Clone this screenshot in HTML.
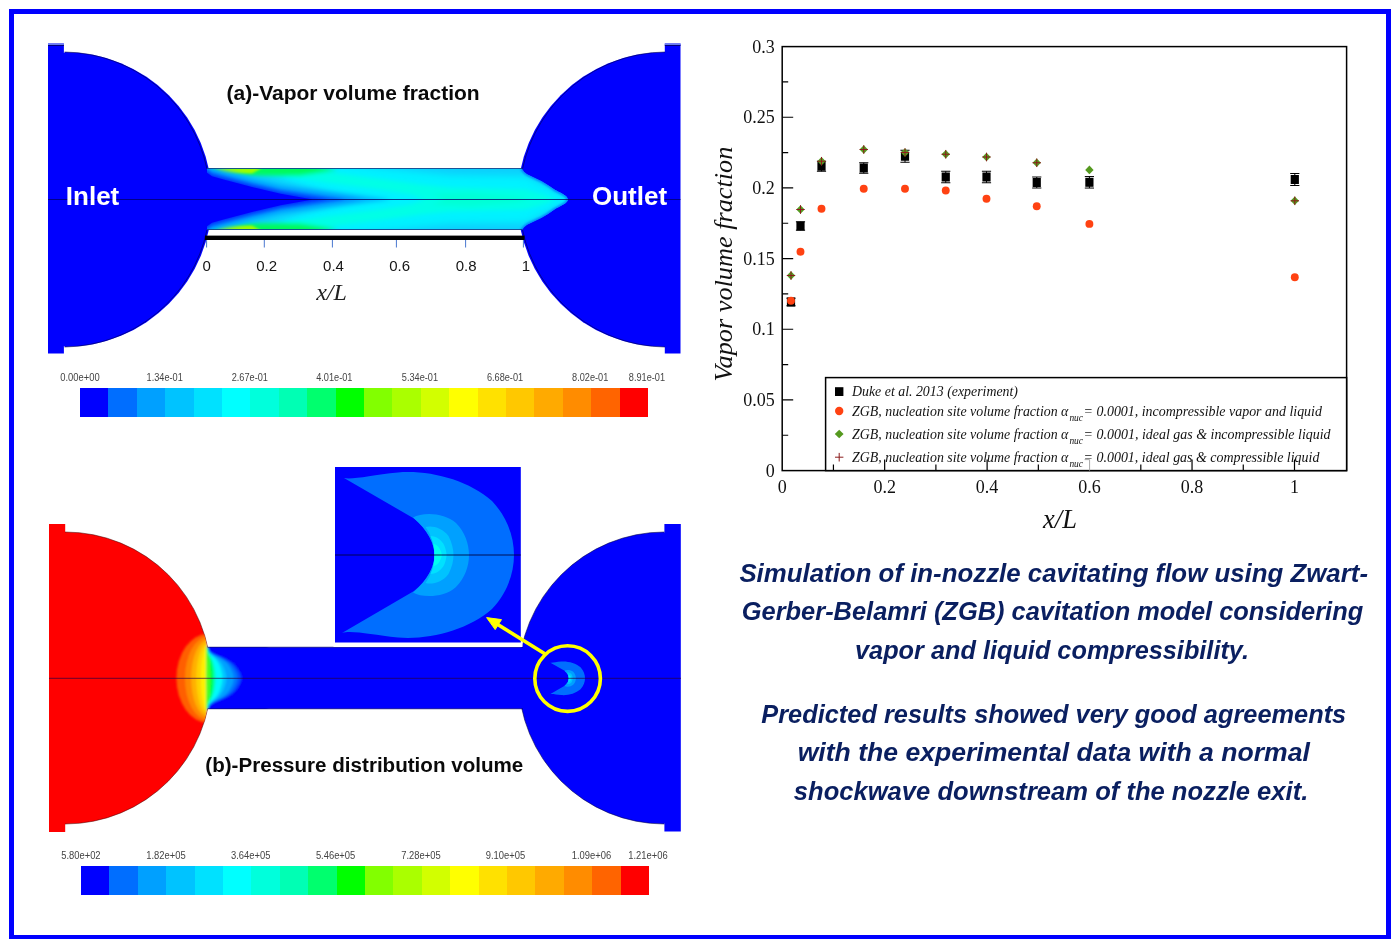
<!DOCTYPE html>
<html lang="en">
<head>
<meta charset="utf-8">
<title>Graphical abstract - ZGB cavitation model</title>
<style>
html,body{margin:0;padding:0;background:#fff;}
body{width:1399px;height:949px;overflow:hidden;}
svg{display:block;}
.sans{font-family:"Liberation Sans",sans-serif;}
.serif{font-family:"Liberation Serif",serif;}
.cb{font-family:"Liberation Sans",sans-serif;font-size:10px;fill:#444;}
.ax{font-family:"Liberation Sans",sans-serif;font-size:15px;fill:#141414;text-anchor:middle;}
.tk{font-family:"Liberation Serif",serif;font-size:18px;fill:#111;}
.lg{font-family:"Liberation Serif",serif;font-style:italic;font-size:14px;fill:#111;}
.cap{font-family:"Liberation Sans",sans-serif;font-weight:bold;font-style:italic;font-size:25.5px;fill:#0a1f60;}
.ttl{font-family:"Liberation Sans",sans-serif;font-weight:bold;font-size:20px;fill:#0a0a0a;}
.io{font-family:"Liberation Sans",sans-serif;font-weight:bold;font-size:26px;fill:#fff;}
</style>
</head>
<body>
<svg width="1399" height="949" viewBox="0 0 1399 949">

<defs>
<filter id="b1" x="-20%" y="-20%" width="140%" height="140%"><feGaussianBlur stdDeviation="1"/></filter>
<filter id="b2" x="-20%" y="-50%" width="140%" height="200%"><feGaussianBlur stdDeviation="2.2"/></filter>
<filter id="b3" x="-20%" y="-50%" width="140%" height="200%"><feGaussianBlur stdDeviation="3.5"/></filter>
<filter id="b05" x="-10%" y="-10%" width="120%" height="120%"><feGaussianBlur stdDeviation="0.5"/></filter>
<clipPath id="chanA"><path d="M207,168.5 H521.6 Q524,172.5 527,174.3 L541.6,181.2 Q549,185.5 554.4,189.6 C559,192.5 567.8,195.5 567.8,199.5 C567.8,203.5 559,206.5 554.4,209.4 Q549,213.5 541.6,217.8 L527,224.7 Q524,226.5 521.6,230.5 V229.5 H207 Z"/></clipPath>
<clipPath id="domB"><path d="M65,532 A146,146 0 0 1 207.6,647.2 H523 V708.8 H207.6 A146,146 0 0 1 65,824 Z"/></clipPath>
<clipPath id="insetClip"><rect x="335" y="467" width="185.8" height="175.5"/></clipPath>
</defs>

<rect x="0" y="0" width="1399" height="949" fill="#fff"/>
<g fill="#0000ff"><rect x="9" y="9" width="1382" height="5"/><rect x="9" y="935" width="1382" height="4"/><rect x="9" y="9" width="5" height="930"/><rect x="1386" y="9" width="5" height="930"/></g>
<g id="figA">
<rect x="48" y="43.5" width="15.9" height="310" fill="#0000ff"/>
<rect x="664.8" y="43.5" width="15.7" height="310" fill="#0000ff"/>
<path d="M64.5,52 A147.5,147.5 0 0 1 64.5,347 Z" fill="#0000ff"/>
<path d="M64.5,52 A147.5,147.5 0 0 1 207,169 M207,230 A147.5,147.5 0 0 1 64.5,347" fill="none" stroke="#00003c" stroke-opacity=".55" stroke-width="1"/>
<path d="M665,52 A147.5,147.5 0 0 0 665,347 Z" fill="#0000ff"/>
<path d="M665,52 A147.5,147.5 0 0 0 522.5,169 M522.5,230 A147.5,147.5 0 0 0 665,347" fill="none" stroke="#00003c" stroke-opacity=".55" stroke-width="1"/>
<rect x="48" y="43.5" width="15.9" height="1.5" fill="#6a7cf0"/><rect x="48" y="45" width="15.9" height="0.9" fill="#000070"/>
<rect x="664.8" y="43.5" width="15.7" height="1.5" fill="#6a7cf0"/><rect x="664.8" y="45" width="15.7" height="0.9" fill="#000070"/>
<rect x="62" y="53" width="5" height="293" fill="#0000ff"/>
<rect x="662" y="53" width="5" height="293" fill="#0000ff"/>
<g clip-path="url(#chanA)">
<rect x="200" y="160" width="380" height="80" fill="#0ccffc"/>
<g filter="url(#b3)">
<path d="M240,164 L335,164 L400,170 L450,175 L525,176 L552,189 L575,199.5 L552,210 L525,223 L450,224 L400,229 L335,235 L240,235 L300,214 L350,199.5 L300,185 Z" fill="#00f2ff"/>
</g>
<g filter="url(#b2)">
<path d="M285,167 L312,170 L340,174 L380,179 L420,184.5 L450,187.5 L525,189.5 L545,195 L556,199.5 L545,204 L525,209.5 L450,211.5 L420,214.5 L380,220 L340,225 L312,229 L285,232 L285,223 L330,216 L380,209.5 L410,204.5 L425,199.5 L410,194.5 L380,189.5 L330,183 L285,176 Z" fill="#00ffe6"/>
<path d="M432,194.5 L470,193 L515,196.5 L530,199.5 L515,202.5 L470,206 L432,204.5 L445,199.5 Z" fill="#00ffd6"/>
<path d="M205,165 L305,165 L338,170 L300,175.5 L250,175.5 L212,172.5 Z" fill="#00fa5a"/>
<path d="M205,234 L305,234 L338,229 L300,223.5 L250,223.5 L212,226.5 Z" fill="#00fa5a"/>
</g>
<g filter="url(#b1)">
<path d="M213,168 L262,168 L252,173.5 L222,173.5 Z" fill="#9cff00"/>
<path d="M213,231 L262,231 L252,225.5 L222,225.5 Z" fill="#9cff00"/>
</g>
<g filter="url(#b2)">
<path d="M198,159.5 L207,163.5 L212,167.0 L223.6,170.2 L252,177.8 L280.7,184.5 L392,199.5 L280.7,214.5 L252,221.2 L223.6,228.8 L212,232.0 L207,235.5 L198,239.5 Z" fill="#00b9ff"/>
<path d="M198,162.5 L207,166.5 L212,170.0 L223.6,173.2 L252,180.8 L280.7,187.5 L365,199.5 L280.7,211.5 L252,218.2 L223.6,225.8 L212,229.0 L207,232.5 L198,236.5 Z" fill="#008cff"/>
</g>
<g filter="url(#b1)">
<path d="M198,165.0 L207,169.0 L212,172.5 L223.6,175.7 L252,183.3 L280.7,190.0 L345,199.5 L280.7,209.0 L252,215.7 L223.6,223.3 L212,226.5 L207,230.0 L198,234.0 Z" fill="#0064ff"/>
<path d="M198,167.3 L207,171.3 L212,174.8 L223.6,178.0 L252,185.6 L280.7,192.3 L328,199.5 L280.7,206.7 L252,213.4 L223.6,221.0 L212,224.2 L207,227.7 L198,231.7 Z" fill="#0032ff"/>
</g>
<g filter="url(#b05)">
<path d="M198,168.7 L207,172.7 L212,176.2 L223.6,179.4 L252,187.0 L280.7,193.7 L313,199.5 L280.7,205.3 L252,212.0 L223.6,219.6 L212,222.8 L207,226.3 L198,230.3 Z" fill="#0000ff"/>
</g>
<path d="M521.6,168.5 Q524,172.5 527,174.3 L541.6,181.2 Q549,185.5 554.4,189.6 C559,192.5 567.8,195.5 567.8,199.5 C567.8,203.5 559,206.5 554.4,209.4 Q549,213.5 541.6,217.8 L527,224.7 Q524,226.5 521.6,230.5" fill="none" stroke="#0050ff" stroke-width="2.5" stroke-opacity=".7" filter="url(#b1)"/>
</g>
<path d="M207,168.5 H522.5 M207,229.5 H522.5" stroke="#083a86" stroke-width="1" stroke-opacity=".85" fill="none"/>
<path d="M48,199.5 H680.5" stroke="#000060" stroke-width="1" stroke-opacity=".75" fill="none"/>
<rect x="205" y="235.6" width="319.5" height="4.4" fill="#000"/>
<rect x="206.1" y="240" width="1" height="7.5" fill="#4a78d0"/>
<rect x="263.8" y="240" width="1" height="7.5" fill="#4a78d0"/>
<rect x="331.9" y="240" width="1" height="7.5" fill="#4a78d0"/>
<rect x="395.9" y="240" width="1" height="7.5" fill="#4a78d0"/>
<rect x="465.1" y="240" width="1" height="7.5" fill="#4a78d0"/>
<rect x="522.9" y="240" width="1" height="7.5" fill="#4a78d0"/>
<text class="ax" x="206.6" y="270.8">0</text>
<text class="ax" x="266.6" y="270.8">0.2</text>
<text class="ax" x="333.5" y="270.8">0.4</text>
<text class="ax" x="399.6" y="270.8">0.6</text>
<text class="ax" x="466.2" y="270.8">0.8</text>
<text class="ax" x="526" y="270.8">1</text>
<text class="serif" x="331.5" y="299.6" font-size="24" font-style="italic" text-anchor="middle" fill="#222">x/L</text>
<text class="ttl" x="226.6" y="100.2" textLength="253" lengthAdjust="spacingAndGlyphs">(a)-Vapor volume fraction</text>
<text class="io" x="65.8" y="205">Inlet</text>
<text class="io" x="592" y="205">Outlet</text>
</g>
<g shape-rendering="crispEdges">
<rect x="79.90" y="387.5" width="28.71" height="29.5" fill="#0000ff"/>
<rect x="108.31" y="387.5" width="28.71" height="29.5" fill="#006eff"/>
<rect x="136.71" y="387.5" width="28.71" height="29.5" fill="#00a0ff"/>
<rect x="165.12" y="387.5" width="28.71" height="29.5" fill="#00c3ff"/>
<rect x="193.52" y="387.5" width="28.71" height="29.5" fill="#00e1ff"/>
<rect x="221.93" y="387.5" width="28.71" height="29.5" fill="#00ffff"/>
<rect x="250.33" y="387.5" width="28.71" height="29.5" fill="#00ffdc"/>
<rect x="278.74" y="387.5" width="28.71" height="29.5" fill="#00ffb4"/>
<rect x="307.14" y="387.5" width="28.71" height="29.5" fill="#00ff6e"/>
<rect x="335.55" y="387.5" width="28.71" height="29.5" fill="#00ff00"/>
<rect x="363.95" y="387.5" width="28.71" height="29.5" fill="#82ff00"/>
<rect x="392.36" y="387.5" width="28.71" height="29.5" fill="#aaff00"/>
<rect x="420.76" y="387.5" width="28.71" height="29.5" fill="#d2ff00"/>
<rect x="449.16" y="387.5" width="28.71" height="29.5" fill="#ffff00"/>
<rect x="477.57" y="387.5" width="28.71" height="29.5" fill="#ffe100"/>
<rect x="505.98" y="387.5" width="28.71" height="29.5" fill="#ffc800"/>
<rect x="534.38" y="387.5" width="28.71" height="29.5" fill="#ffaa00"/>
<rect x="562.78" y="387.5" width="28.71" height="29.5" fill="#ff8c00"/>
<rect x="591.19" y="387.5" width="28.71" height="29.5" fill="#ff6400"/>
<rect x="619.60" y="387.5" width="28.41" height="29.5" fill="#ff0000"/>
</g>
<text class="cb" x="60.3" y="380.8" textLength="39.4" lengthAdjust="spacingAndGlyphs">0.00e+00</text>
<text class="cb" x="146.6" y="380.8" textLength="36.2" lengthAdjust="spacingAndGlyphs">1.34e-01</text>
<text class="cb" x="231.7" y="380.8" textLength="36.2" lengthAdjust="spacingAndGlyphs">2.67e-01</text>
<text class="cb" x="316.2" y="380.8" textLength="36.2" lengthAdjust="spacingAndGlyphs">4.01e-01</text>
<text class="cb" x="401.8" y="380.8" textLength="36.2" lengthAdjust="spacingAndGlyphs">5.34e-01</text>
<text class="cb" x="486.9" y="380.8" textLength="36.2" lengthAdjust="spacingAndGlyphs">6.68e-01</text>
<text class="cb" x="572.1" y="380.8" textLength="36.2" lengthAdjust="spacingAndGlyphs">8.02e-01</text>
<text class="cb" x="628.8" y="380.8" textLength="36.2" lengthAdjust="spacingAndGlyphs">8.91e-01</text>
<g shape-rendering="crispEdges">
<rect x="80.90" y="865.5" width="28.70" height="29.200000000000045" fill="#0000ff"/>
<rect x="109.30" y="865.5" width="28.70" height="29.200000000000045" fill="#006eff"/>
<rect x="137.70" y="865.5" width="28.70" height="29.200000000000045" fill="#00a0ff"/>
<rect x="166.10" y="865.5" width="28.70" height="29.200000000000045" fill="#00c3ff"/>
<rect x="194.50" y="865.5" width="28.70" height="29.200000000000045" fill="#00e1ff"/>
<rect x="222.90" y="865.5" width="28.70" height="29.200000000000045" fill="#00ffff"/>
<rect x="251.30" y="865.5" width="28.70" height="29.200000000000045" fill="#00ffdc"/>
<rect x="279.70" y="865.5" width="28.70" height="29.200000000000045" fill="#00ffb4"/>
<rect x="308.10" y="865.5" width="28.70" height="29.200000000000045" fill="#00ff6e"/>
<rect x="336.50" y="865.5" width="28.70" height="29.200000000000045" fill="#00ff00"/>
<rect x="364.90" y="865.5" width="28.70" height="29.200000000000045" fill="#82ff00"/>
<rect x="393.30" y="865.5" width="28.70" height="29.200000000000045" fill="#aaff00"/>
<rect x="421.70" y="865.5" width="28.70" height="29.200000000000045" fill="#d2ff00"/>
<rect x="450.10" y="865.5" width="28.70" height="29.200000000000045" fill="#ffff00"/>
<rect x="478.50" y="865.5" width="28.70" height="29.200000000000045" fill="#ffe100"/>
<rect x="506.90" y="865.5" width="28.70" height="29.200000000000045" fill="#ffc800"/>
<rect x="535.30" y="865.5" width="28.70" height="29.200000000000045" fill="#ffaa00"/>
<rect x="563.70" y="865.5" width="28.70" height="29.200000000000045" fill="#ff8c00"/>
<rect x="592.10" y="865.5" width="28.70" height="29.200000000000045" fill="#ff6400"/>
<rect x="620.50" y="865.5" width="28.40" height="29.200000000000045" fill="#ff0000"/>
</g>
<text class="cb" x="61.2" y="859.3" textLength="39.4" lengthAdjust="spacingAndGlyphs">5.80e+02</text>
<text class="cb" x="146.3" y="859.3" textLength="39.4" lengthAdjust="spacingAndGlyphs">1.82e+05</text>
<text class="cb" x="231.0" y="859.3" textLength="39.4" lengthAdjust="spacingAndGlyphs">3.64e+05</text>
<text class="cb" x="315.9" y="859.3" textLength="39.4" lengthAdjust="spacingAndGlyphs">5.46e+05</text>
<text class="cb" x="401.3" y="859.3" textLength="39.4" lengthAdjust="spacingAndGlyphs">7.28e+05</text>
<text class="cb" x="485.8" y="859.3" textLength="39.4" lengthAdjust="spacingAndGlyphs">9.10e+05</text>
<text class="cb" x="571.8" y="859.3" textLength="39.4" lengthAdjust="spacingAndGlyphs">1.09e+06</text>
<text class="cb" x="628.3" y="859.3" textLength="39.4" lengthAdjust="spacingAndGlyphs">1.21e+06</text>
<g id="figB">
<rect x="49" y="524" width="16.2" height="308" fill="#ff0000"/>
<path d="M65,532 A146,146 0 0 1 65,824 Z" fill="#ff0000"/>
<path d="M65,532 A146,146 0 0 1 65,824" fill="none" stroke="#3c0000" stroke-opacity=".5" stroke-width="1"/>
<rect x="63" y="533" width="4" height="290" fill="#ff0000"/>
<rect x="664.4" y="524" width="16.4" height="307.5" fill="#0000ff"/>
<path d="M664.5,532 A146,146 0 0 0 664.5,824 Z" fill="#0000ff"/>
<path d="M664.5,532 A146,146 0 0 0 664.5,824" fill="none" stroke="#00003c" stroke-opacity=".55" stroke-width="1"/>
<rect x="662" y="533" width="5" height="290" fill="#0000ff"/>
<rect x="207.6" y="647.2" width="316" height="61.6" fill="#0000ff"/>
<g clip-path="url(#domB)"><g filter="url(#b1)">
<ellipse cx="208.0" cy="678.3" rx="31.6" ry="44.5" fill="#ff5f00"/>
<ellipse cx="208.0" cy="678.3" rx="23" ry="41.5" fill="#ff8700"/>
<ellipse cx="208.0" cy="678.3" rx="16.8" ry="38.5" fill="#ffb000"/>
<ellipse cx="208.0" cy="678.3" rx="11.8" ry="35.5" fill="#ffd200"/>
<ellipse cx="208.0" cy="678.3" rx="7.2" ry="33" fill="#fff000"/>
<ellipse cx="208.0" cy="678.3" rx="2.2" ry="31.5" fill="#c8ff00"/>
<rect x="207.6" y="640" width="60" height="76" fill="#0000ff"/>
<path d="M206.6,647.3 L207.6,648.1 L210.1,651.9 L213.0,653.7 L215.8,655.1 L219.7,656.6 L223.9,658.3 L228.1,660.4 L232.1,663.1 L235.2,665.9 L237.8,669.5 L239.9,673.1 L240.9,676.1 L241.2,678.3 L241.2,678.3 L240.9,680.5 L239.9,683.5 L237.8,687.1 L235.2,690.7 L232.1,693.5 L228.1,696.2 L223.9,698.3 L219.7,700.0 L215.8,701.5 L213.0,702.9 L210.1,704.7 L207.6,708.5 L206.6,709.3 Z" fill="#0050ff"/>
<path d="M206.6,647.3 L207.6,648.1 L209.8,651.9 L212.4,653.7 L214.9,655.1 L218.4,656.6 L222.1,658.3 L225.8,660.4 L229.4,663.1 L232.1,665.9 L234.5,669.5 L236.3,673.1 L237.2,676.1 L237.5,678.3 L237.5,678.3 L237.2,680.5 L236.3,683.5 L234.5,687.1 L232.1,690.7 L229.4,693.5 L225.8,696.2 L222.1,698.3 L218.4,700.0 L214.9,701.5 L212.4,702.9 L209.8,704.7 L207.6,708.5 L206.6,709.3 Z" fill="#0078ff"/>
<path d="M206.6,647.3 L207.6,648.1 L209.5,651.9 L211.8,653.7 L213.9,655.1 L217.0,656.6 L220.3,658.3 L223.5,660.4 L226.7,663.1 L229.0,665.9 L231.1,669.5 L232.7,673.1 L233.4,676.1 L233.7,678.3 L233.7,678.3 L233.4,680.5 L232.7,683.5 L231.1,687.1 L229.0,690.7 L226.7,693.5 L223.5,696.2 L220.3,698.3 L217.0,700.0 L213.9,701.5 L211.8,702.9 L209.5,704.7 L207.6,708.5 L206.6,709.3 Z" fill="#00a0ff"/>
<path d="M206.6,647.3 L207.6,648.1 L209.0,651.9 L210.6,653.7 L212.2,655.1 L214.4,656.6 L216.7,658.3 L219.1,660.4 L221.3,663.1 L223.0,665.9 L224.5,669.5 L225.6,673.1 L226.2,676.1 L226.4,678.3 L226.4,678.3 L226.2,680.5 L225.6,683.5 L224.5,687.1 L223.0,690.7 L221.3,693.5 L219.1,696.2 L216.7,698.3 L214.4,700.0 L212.2,701.5 L210.6,702.9 L209.0,704.7 L207.6,708.5 L206.6,709.3 Z" fill="#00c8ff"/>
<path d="M206.6,647.3 L207.6,648.1 L208.7,651.9 L210.0,653.7 L211.2,655.1 L212.9,656.6 L214.8,658.3 L216.6,660.4 L218.4,663.1 L219.7,665.9 L220.9,669.5 L221.8,673.1 L222.3,676.1 L222.4,678.3 L222.4,678.3 L222.3,680.5 L221.8,683.5 L220.9,687.1 L219.7,690.7 L218.4,693.5 L216.6,696.2 L214.8,698.3 L212.9,700.0 L211.2,701.5 L210.0,702.9 L208.7,704.7 L207.6,708.5 L206.6,709.3 Z" fill="#00fafa"/>
<path d="M206.6,647.3 L207.6,648.1 L208.2,651.9 L208.9,653.7 L209.5,655.1 L210.5,656.6 L211.5,658.3 L212.5,660.4 L213.4,663.1 L214.2,665.9 L214.8,669.5 L215.3,673.1 L215.5,676.1 L215.6,678.3 L215.6,678.3 L215.5,680.5 L215.3,683.5 L214.8,687.1 L214.2,690.7 L213.4,693.5 L212.5,696.2 L211.5,698.3 L210.5,700.0 L209.5,701.5 L208.9,702.9 L208.2,704.7 L207.6,708.5 L206.6,709.3 Z" fill="#00ffaa"/>
<path d="M206.6,647.3 L207.6,648.1 L208.0,651.9 L208.5,653.7 L208.9,655.1 L209.5,656.6 L210.2,658.3 L210.9,660.4 L211.5,663.1 L212.0,665.9 L212.5,669.5 L212.8,673.1 L212.9,676.1 L213.0,678.3 L213.0,678.3 L212.9,680.5 L212.8,683.5 L212.5,687.1 L212.0,690.7 L211.5,693.5 L210.9,696.2 L210.2,698.3 L209.5,700.0 L208.9,701.5 L208.5,702.9 L208.0,704.7 L207.6,708.5 L206.6,709.3 Z" fill="#00ff3c"/>
<path d="M206.6,647.3 L207.6,648.1 L207.7,651.9 L207.9,653.7 L208.1,655.1 L208.3,656.6 L208.6,658.3 L208.8,660.4 L209.1,663.1 L209.2,665.9 L209.4,669.5 L209.5,673.1 L209.6,676.1 L209.6,678.3 L209.6,678.3 L209.6,680.5 L209.5,683.5 L209.4,687.1 L209.2,690.7 L209.1,693.5 L208.8,696.2 L208.6,698.3 L208.3,700.0 L208.1,701.5 L207.9,702.9 L207.7,704.7 L207.6,708.5 L206.6,709.3 Z" fill="#64ff00"/>
</g></g>
<path d="M207.6,647.2 H523 M207.6,708.8 H523" stroke="#000050" stroke-width="1" stroke-opacity=".6" fill="none"/>
<g transform="translate(550,678.3) scale(0.2035) translate(-342,-555)" filter="url(#b1)"><use href="#cres"/></g>
<path d="M49,678.3 H681" stroke="#2a0040" stroke-width="1" stroke-opacity=".7" fill="none"/>
<rect x="333.5" y="465.5" width="189" height="181.5" fill="#fff"/>
<rect x="335" y="467" width="185.8" height="175.5" fill="#0000ff"/>
<g id="cres">
<path d="M344,478 C352,480 372,475 398,472.5 C430,470 468,480 492,501 C508,518 514,538 514,555 C514,572 508,592 492,609 C468,630 430,640 398,637.5 C372,635 352,630 342,633 L414,591 C428,580 434.5,566 434.5,555 C434.5,544 428,530 414,518.5 Z" fill="#006eff"/>
<path d="M413,517.5 C422,512 444,512 456,523 C465,532 469,544 469,555 C469,566 465,578 456,587 C444,598 422,598 413,592.5 C428,580 434.5,566 434.5,555 C434.5,544 428,530 413,517.5 Z" fill="#00a0ff"/>
<path d="M425.5,527 C432,525 443,528 448.5,536 C452,543 453.5,549 453.5,555 C453.5,561 452,567 448.5,574 C443,582 432,585 425.5,583 C432,574 434.5,564 434.5,555 C434.5,546 432,536 425.5,527 Z" fill="#00c3ff"/>
<path d="M430.5,536 C436,536 442,540 444.5,546 C446,550 446.5,553 446.5,555 C446.5,557 446,560 444.5,564 C442,570 436,574 430.5,574 C433.5,567 434.5,561 434.5,555 C434.5,549 433.5,543 430.5,536 Z" fill="#00e1ff"/>
<path d="M433.5,544 C437,544.5 440.5,548 442,555 C440.5,562 437,565.5 433.5,566 C434.3,561 434.5,558 434.5,555 C434.5,552 434.3,549 433.5,544 Z" fill="#00fff0"/>
</g>
<path d="M335,555 H520.8" stroke="#000038" stroke-width="1.2" stroke-opacity=".85" fill="none"/>
<circle cx="567.6" cy="678.6" r="32.8" fill="none" stroke="#ffff00" stroke-width="3.6"/>
<path d="M545.2,654 L493,621.5" stroke="#ffff00" stroke-width="3.6" fill="none"/>
<path d="M486.6,617.6 L501.5,619.6 L495.2,629.6 Z" fill="#ffff00" stroke="#ffff00" stroke-width="1" stroke-linejoin="round"/>
<text class="ttl" x="205.3" y="771.6" textLength="318" lengthAdjust="spacingAndGlyphs">(b)-Pressure distribution volume</text>
</g>
<g id="chart">
<rect x="782.2" y="46.6" width="564.4" height="424.0" fill="none" stroke="#000" stroke-width="1.5"/>
<rect x="825.6" y="377.6" width="521.0" height="93.0" fill="#fff" stroke="#000" stroke-width="1.5"/>
<path d="M782.2,435.27 h6 M782.2,399.93 h11 M782.2,364.60 h6 M782.2,329.27 h11 M782.2,293.93 h6 M782.2,258.60 h11 M782.2,223.27 h6 M782.2,187.93 h11 M782.2,152.60 h6 M782.2,117.27 h11 M782.2,81.93 h6 M833.43,470.6 v-6 M884.66,470.6 v-11 M935.89,470.6 v-6 M987.12,470.6 v-11 M1038.35,470.6 v-6 M1140.81,470.6 v-6 M1192.04,470.6 v-11 M1243.27,470.6 v-6 M1294.50,470.6 v-11" stroke="#000" stroke-width="1.2" fill="none"/>
<path d="M1089.58,470.6 v-11 h-5" stroke="#a8a8a8" stroke-width="1" fill="none"/>
<text class="tk" x="774.8" y="476.7" text-anchor="end">0</text>
<text class="tk" x="774.8" y="406.0" text-anchor="end">0.05</text>
<text class="tk" x="774.8" y="335.4" text-anchor="end">0.1</text>
<text class="tk" x="774.8" y="264.7" text-anchor="end">0.15</text>
<text class="tk" x="774.8" y="194.0" text-anchor="end">0.2</text>
<text class="tk" x="774.8" y="123.4" text-anchor="end">0.25</text>
<text class="tk" x="774.8" y="52.7" text-anchor="end">0.3</text>
<text class="tk" x="782.2" y="493.2" text-anchor="middle">0</text>
<text class="tk" x="884.7" y="493.2" text-anchor="middle">0.2</text>
<text class="tk" x="987.1" y="493.2" text-anchor="middle">0.4</text>
<text class="tk" x="1089.6" y="493.2" text-anchor="middle">0.6</text>
<text class="tk" x="1192.0" y="493.2" text-anchor="middle">0.8</text>
<text class="tk" x="1294.5" y="493.2" text-anchor="middle">1</text>
<text class="serif" x="1060" y="528" font-size="26.5" font-style="italic" text-anchor="middle" fill="#111">x/L</text>
<text class="serif" transform="translate(731.5,381.6) rotate(-90)" font-size="26" font-style="italic" fill="#111" textLength="235" lengthAdjust="spacingAndGlyphs">Vapor volume fraction</text>
<path d="M791,298.2 V305.8 M786.4,298.2 h9.2 M786.4,305.8 h9.2" stroke="#000" stroke-width="1" fill="none"/>
<rect x="786.90" y="297.50" width="8.2" height="9" fill="#000"/>
<path d="M800.5,221.8 V230.2 M795.9,221.8 h9.2 M795.9,230.2 h9.2" stroke="#000" stroke-width="1" fill="none"/>
<rect x="796.40" y="221.50" width="8.2" height="9" fill="#000"/>
<path d="M821.5,161.25 V171.25 M816.9,161.25 h9.2 M816.9,171.25 h9.2" stroke="#000" stroke-width="1" fill="none"/>
<rect x="817.40" y="161.75" width="8.2" height="9" fill="#000"/>
<path d="M863.75,162.75 V173.25 M859.15,162.75 h9.2 M859.15,173.25 h9.2" stroke="#000" stroke-width="1" fill="none"/>
<rect x="859.65" y="163.50" width="8.2" height="9" fill="#000"/>
<path d="M905,150.25 V162.25 M900.4,150.25 h9.2 M900.4,162.25 h9.2" stroke="#000" stroke-width="1" fill="none"/>
<rect x="900.90" y="151.75" width="8.2" height="9" fill="#000"/>
<path d="M945.75,171.25 V182.75 M941.15,171.25 h9.2 M941.15,182.75 h9.2" stroke="#000" stroke-width="1" fill="none"/>
<rect x="941.65" y="172.50" width="8.2" height="9" fill="#000"/>
<path d="M986.5,171.25 V182.75 M981.9,171.25 h9.2 M981.9,182.75 h9.2" stroke="#000" stroke-width="1" fill="none"/>
<rect x="982.40" y="172.50" width="8.2" height="9" fill="#000"/>
<path d="M1036.75,177.0 V188.0 M1032.15,177.0 h9.2 M1032.15,188.0 h9.2" stroke="#000" stroke-width="1" fill="none"/>
<rect x="1032.65" y="178.00" width="8.2" height="9" fill="#000"/>
<path d="M1089.4,176.55 V188.05 M1084.8000000000002,176.55 h9.2 M1084.8000000000002,188.05 h9.2" stroke="#000" stroke-width="1" fill="none"/>
<rect x="1085.30" y="177.80" width="8.2" height="9" fill="#000"/>
<path d="M1294.8,173.5 V185.5 M1290.2,173.5 h9.2 M1290.2,185.5 h9.2" stroke="#000" stroke-width="1" fill="none"/>
<rect x="1290.70" y="175.00" width="8.2" height="9" fill="#000"/>
<circle cx="791" cy="300.75" r="3.95" fill="#ff4212"/>
<circle cx="800.5" cy="251.75" r="3.95" fill="#ff4212"/>
<circle cx="821.5" cy="208.75" r="3.95" fill="#ff4212"/>
<circle cx="863.75" cy="188.75" r="3.95" fill="#ff4212"/>
<circle cx="905" cy="188.75" r="3.95" fill="#ff4212"/>
<circle cx="945.75" cy="190.5" r="3.95" fill="#ff4212"/>
<circle cx="986.5" cy="198.75" r="3.95" fill="#ff4212"/>
<circle cx="1036.75" cy="206.25" r="3.95" fill="#ff4212"/>
<circle cx="1089.4" cy="223.9" r="3.95" fill="#ff4212"/>
<circle cx="1294.8" cy="277.3" r="3.95" fill="#ff4212"/>
<path d="M786.8,275.5 L791,271.2 L795.2,275.5 L791,279.8 Z" fill="#55991f"/>
<path d="M786.8,275.5 h8.4 M791,271.2 v8.6" stroke="#8c1c1c" stroke-width="1" fill="none"/>
<path d="M796.3,209.5 L800.5,205.2 L804.7,209.5 L800.5,213.8 Z" fill="#55991f"/>
<path d="M796.3,209.5 h8.4 M800.5,205.2 v8.6" stroke="#8c1c1c" stroke-width="1" fill="none"/>
<path d="M817.3,161.25 L821.5,156.95 L825.7,161.25 L821.5,165.55 Z" fill="#55991f"/>
<path d="M817.3,161.25 h8.4 M821.5,156.95 v8.6" stroke="#8c1c1c" stroke-width="1" fill="none"/>
<path d="M859.55,149.5 L863.75,145.2 L867.95,149.5 L863.75,153.8 Z" fill="#55991f"/>
<path d="M859.55,149.5 h8.4 M863.75,145.2 v8.6" stroke="#8c1c1c" stroke-width="1" fill="none"/>
<path d="M900.8,152.5 L905,148.2 L909.2,152.5 L905,156.8 Z" fill="#55991f"/>
<path d="M900.8,152.5 h8.4 M905,148.2 v8.6" stroke="#8c1c1c" stroke-width="1" fill="none"/>
<path d="M941.55,154.25 L945.75,149.95 L949.95,154.25 L945.75,158.55 Z" fill="#55991f"/>
<path d="M941.55,154.25 h8.4 M945.75,149.95 v8.6" stroke="#8c1c1c" stroke-width="1" fill="none"/>
<path d="M982.3,157 L986.5,152.7 L990.7,157 L986.5,161.3 Z" fill="#55991f"/>
<path d="M982.3,157 h8.4 M986.5,152.7 v8.6" stroke="#8c1c1c" stroke-width="1" fill="none"/>
<path d="M1032.55,162.75 L1036.75,158.45 L1040.95,162.75 L1036.75,167.05 Z" fill="#55991f"/>
<path d="M1032.55,162.75 h8.4 M1036.75,158.45 v8.6" stroke="#8c1c1c" stroke-width="1" fill="none"/>
<path d="M1085.2,169.9 L1089.4,165.6 L1093.6000000000001,169.9 L1089.4,174.20000000000002 Z" fill="#55991f"/>
<path d="M1290.6,200.8 L1294.8,196.5 L1299.0,200.8 L1294.8,205.10000000000002 Z" fill="#55991f"/>
<path d="M1290.6,200.8 h8.4 M1294.8,196.5 v8.6" stroke="#8c1c1c" stroke-width="1" fill="none"/>
<rect x="835.0" y="387.20000000000005" width="8.4" height="8.8" fill="#000"/>
<circle cx="839.2" cy="411" r="4.2" fill="#ff4212"/>
<path d="M834.8000000000001,434 L839.2,429.8 L843.6,434 L839.2,438.2 Z" fill="#55991f"/>
<path d="M835.0,457.2 h8.4 M839.2,452.9 v8.6" stroke="#8c1c1c" stroke-width="1" fill="none"/>
<text class="lg" x="852" y="396" textLength="166" lengthAdjust="spacingAndGlyphs">Duke et al. 2013 (experiment)</text>
<text class="lg" x="852" y="415.6" textLength="216.4" lengthAdjust="spacingAndGlyphs">ZGB, nucleation site volume fraction α</text>
<text class="lg" x="1069.4" y="420.6" style="font-size:10.5px" textLength="13.6" lengthAdjust="spacingAndGlyphs">nuc</text>
<text class="lg" x="1083.6" y="415.6" textLength="238.3" lengthAdjust="spacingAndGlyphs">= 0.0001, incompressible vapor and liquid</text>
<text class="lg" x="852" y="438.6" textLength="216.4" lengthAdjust="spacingAndGlyphs">ZGB, nucleation site volume fraction α</text>
<text class="lg" x="1069.4" y="443.6" style="font-size:10.5px" textLength="13.6" lengthAdjust="spacingAndGlyphs">nuc</text>
<text class="lg" x="1083.6" y="438.6" textLength="247.0" lengthAdjust="spacingAndGlyphs">= 0.0001, ideal gas &amp; incompressible liquid</text>
<text class="lg" x="852" y="461.8" textLength="216.4" lengthAdjust="spacingAndGlyphs">ZGB, nucleation site volume fraction α</text>
<text class="lg" x="1069.4" y="466.8" style="font-size:10.5px" textLength="13.6" lengthAdjust="spacingAndGlyphs">nuc</text>
<text class="lg" x="1083.6" y="461.8" textLength="235.8" lengthAdjust="spacingAndGlyphs">= 0.0001, ideal gas &amp; compressible liquid</text>
</g>
<text class="cap" x="739.4" y="581.5" textLength="628.6" lengthAdjust="spacingAndGlyphs">Simulation of in-nozzle cavitating flow using Zwart-</text>
<text class="cap" x="741.8" y="620.3" textLength="621.4" lengthAdjust="spacingAndGlyphs">Gerber-Belamri (ZGB) cavitation model considering</text>
<text class="cap" x="855" y="659.1" textLength="394.0" lengthAdjust="spacingAndGlyphs">vapor and liquid compressibility.</text>
<text class="cap" x="761.3" y="722.7" textLength="584.9" lengthAdjust="spacingAndGlyphs">Predicted results showed very good agreements</text>
<text class="cap" x="797.7" y="761.2" textLength="512.1" lengthAdjust="spacingAndGlyphs">with the experimental data with a normal</text>
<text class="cap" x="793.8" y="800.2" textLength="514.5" lengthAdjust="spacingAndGlyphs">shockwave downstream of the nozzle exit.</text>
</svg>
</body>
</html>
